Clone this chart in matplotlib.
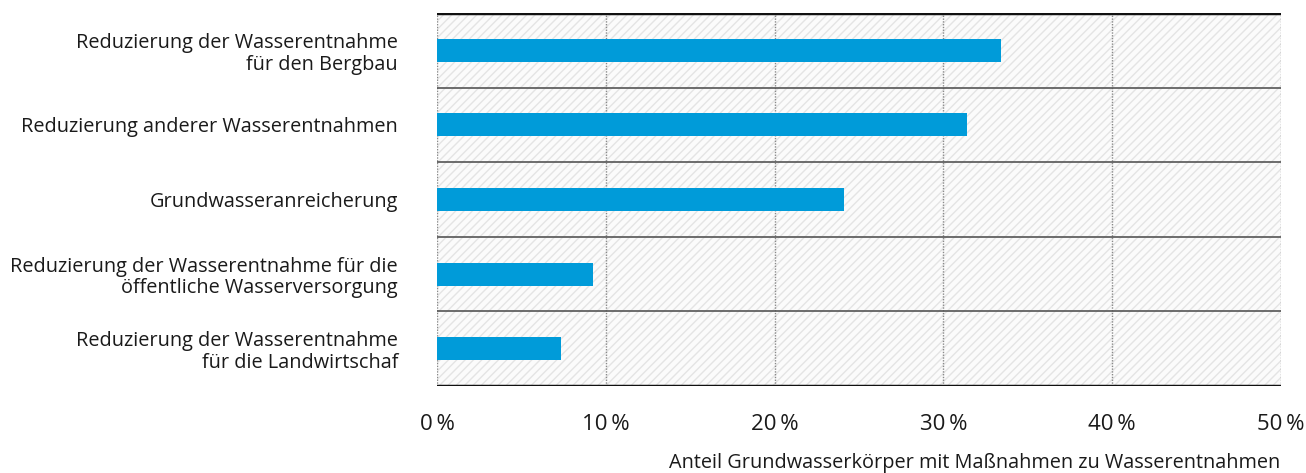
import matplotlib.pyplot as plt
from matplotlib.patches import Rectangle
import numpy as np

plt.rcParams['font.family'] = ['Open Sans', 'DejaVu Sans']
plt.rcParams['hatch.linewidth'] = 1.0

categories = [
    'Reduzierung der Wasserentnahme\nfür den Bergbau',
    'Reduzierung anderer Wasserentnahmen',
    'Grundwasseranreicherung',
    'Reduzierung der Wasserentnahme für die\nöffentliche Wasserversorgung',
    'Reduzierung der Wasserentnahme\nfür die Landwirtschaf',
]
values = [33.4, 31.4, 24.1, 9.25, 7.35]
xticks = [0, 10, 20, 30, 40, 50]
xlabel = 'Anteil Grundwasserkörper mit Maßnahmen zu Wasserentnahmen'

fig = plt.figure(figsize=(13.06, 4.73), dpi=100)
ax = fig.add_axes([437 / 1306, 1 - 386 / 473, 844 / 1306, 373 / 473])

n = len(categories)
ax.set_xlim(0, 50)
ax.set_ylim(n - 0.5, -0.5)

# hatched background
ax.add_patch(Rectangle((0, -0.5), 50, n, facecolor='#fbfbfb', edgecolor='#e4e4e4',
                       hatch='////', linewidth=0, zorder=0))

for x in xticks:
    ax.axvline(x, color='#8a8a8a', linestyle=(0, (1, 1)), linewidth=1.0, zorder=1)
for i in range(1, n):
    ax.axhline(i - 0.5, color='#555555', linewidth=1.2, zorder=2)
ax.axhline(-0.5, color='#111111', linewidth=2.5, zorder=3)
ax.axhline(n - 0.5, color='#111111', linewidth=2.5, zorder=3)

y = np.arange(n)
ax.barh(y, values, height=0.31, color='#009bd9', zorder=4)

for s in ax.spines.values():
    s.set_visible(False)

ax.set_yticks(y)
ax.set_yticklabels(categories, fontsize=14.3, color='#1a1a1a', ha='right',
                   linespacing=1.12)
ax.set_xticks(xticks)
ax.set_xticklabels([f'{t}\u2009%' for t in xticks], fontsize=16, color='#1a1a1a')
ax.tick_params(axis='both', length=0)
ax.tick_params(axis='x', pad=20)
ax.tick_params(axis='y', pad=28)

fig.text(1280 / 1306, 1 - 463 / 473, xlabel, ha='right', va='center',
         fontsize=14.3, color='#1a1a1a')

fig.savefig('out.png', dpi=100)
